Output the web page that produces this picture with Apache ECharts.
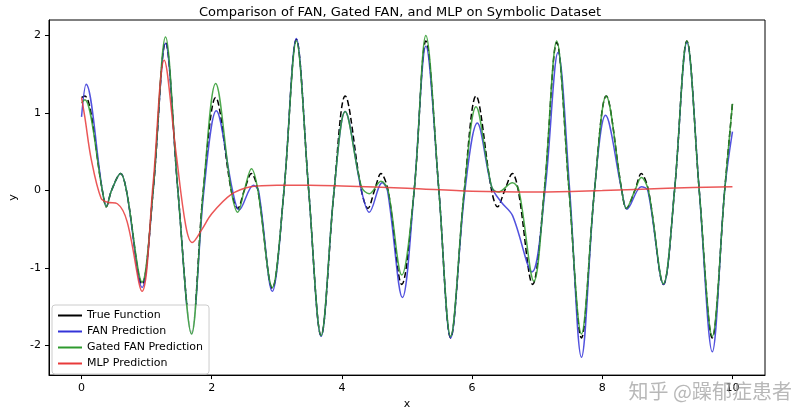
<!DOCTYPE html>
<html><head><meta charset="utf-8">
<script src="https://cdn.jsdelivr.net/npm/echarts@6/dist/echarts.min.js"></script>
<style>html,body{margin:0;padding:0;background:#fff}#c{width:800px;height:415px}</style>
</head><body><div id="c"></div>
<script>
const xTicks = [0, 2, 4, 6, 8, 10];
const yTicks = [-2, -1, 0, 1, 2];
const trueFn = [[0,1.2],[0.05,1.22],[0.32,0],[0.38,-0.21],[0.46,0],[0.6,0.22],[0.69,0],[0.93,-1.21],[1.1,0],[1.29,1.91],[1.48,0],[1.69,-1.83],[1.87,0],[2.06,1.2],[2.3,0],[2.4,-0.23],[2.5,0],[2.61,0.22],[2.71,0],[2.93,-1.26],[3.11,0],[3.3,1.95],[3.49,0],[3.68,-1.87],[3.88,0],[4.05,1.22],[4.3,0],[4.4,-0.23],[4.5,0],[4.6,0.22],[4.71,0],[4.92,-1.21],[5.11,0],[5.29,1.93],[5.49,0],[5.67,-1.9],[5.88,0],[6.06,1.22],[6.3,0],[6.39,-0.21],[6.5,0],[6.62,0.22],[6.71,0],[6.93,-1.21],[7.11,0],[7.3,1.91],[7.49,0],[7.68,-1.9],[7.88,0],[8.06,1.22],[8.3,0],[8.37,-0.23],[8.5,0],[8.6,0.22],[8.71,0],[8.94,-1.21],[9.11,0],[9.3,1.93],[9.49,0],[9.69,-1.9],[9.88,0],[10,1.12]];
const fanPred = [[0,0.95],[0.07,1.37],[0.32,0],[0.38,-0.2],[0.46,0],[0.6,0.22],[0.69,0],[0.93,-1.25],[1.1,0],[1.29,1.9],[1.48,0],[1.69,-1.85],[1.88,0],[2.07,1.03],[2.32,0],[2.42,-0.25],[2.64,0.07],[2.72,0],[2.93,-1.3],[3.11,0],[3.3,1.96],[3.49,0],[3.68,-1.88],[3.88,0],[4.05,1.02],[4.3,0],[4.42,-0.28],[4.62,0.1],[4.7,0],[4.93,-1.38],[5.11,0],[5.29,1.86],[5.49,0],[5.67,-1.9],[5.89,0],[6.08,0.87],[6.3,0.05],[6.45,-0.15],[6.62,-0.32],[6.92,-1.05],[7.12,0],[7.32,1.78],[7.5,0],[7.68,-2.15],[7.88,0],[8.05,0.97],[8.3,0],[8.38,-0.24],[8.6,0.05],[8.7,0],[8.94,-1.21],[9.11,0],[9.3,1.91],[9.49,0],[9.69,-2.08],[9.88,0],[10,0.76]];
const gatedPred = [[0,1.13],[0.05,1.17],[0.32,0],[0.38,-0.21],[0.46,0],[0.6,0.22],[0.69,0],[0.93,-1.18],[1.1,0],[1.29,1.98],[1.48,0],[1.69,-1.85],[1.87,0],[2.06,1.38],[2.3,0],[2.4,-0.28],[2.5,0],[2.61,0.28],[2.71,0],[2.93,-1.25],[3.11,0],[3.3,1.93],[3.49,0],[3.68,-1.87],[3.88,0],[4.05,1.02],[4.3,0.05],[4.42,-0.04],[4.6,0.12],[4.71,0],[4.92,-1.09],[5.11,0],[5.29,2.0],[5.49,0],[5.67,-1.88],[5.88,0],[6.06,1.08],[6.3,0.05],[6.4,-0.02],[6.62,0.1],[6.72,0],[6.95,-1.17],[7.11,0],[7.3,1.93],[7.49,0],[7.68,-1.85],[7.88,0],[8.06,1.22],[8.3,0],[8.37,-0.23],[8.5,0],[8.6,0.17],[8.71,0],[8.94,-1.2],[9.11,0],[9.3,1.93],[9.49,0],[9.69,-1.88],[9.88,0],[10,1.12]];
const mlpPred = [[0,1.2],[0.05,0.95],[0.15,0.4],[0.3,-0.1],[0.4,-0.15],[0.55,-0.17],[0.7,-0.4],[0.93,-1.3],[1.1,0.1],[1.27,1.68],[1.45,0.5],[1.6,-0.45],[1.7,-0.67],[1.85,-0.5],[2.0,-0.3],[2.3,-0.05],[2.6,0.05],[3.0,0.07],[3.5,0.07],[4,0.06],[5,0.03],[6,-0.01],[7,-0.02],[8,0.0],[9,0.03],[10,0.05]];

const chart = echarts.init(document.getElementById('c'));
const font = 'DejaVu Sans';
function line(name, data, color, dashed, z) {
  return {name, type:'line', data, smooth:0.35, symbol:'none', z,
    lineStyle:{color, width:1.5, type: dashed ? [6,3] : 'solid', opacity: dashed?1:0.85},
    itemStyle:{color}};
}
chart.setOption({
  animation:false,
  textStyle:{fontFamily:font},
  title:{text:'Comparison of FAN, Gated FAN, and MLP on Symbolic Dataset', left:'center', top:1,
    textStyle:{fontSize:13, fontWeight:'normal', color:'#000', fontFamily:font}},
  grid:{left:48, right:35, top:20, bottom:37, show:true, borderColor:'#000', borderWidth:1},
  legend:{orient:'vertical', left:52, bottom:41, itemWidth:24, itemHeight:2, itemGap:5, icon:'rect',
    backgroundColor:'rgba(255,255,255,0.8)', borderColor:'#ccc', borderWidth:1, borderRadius:3, padding:[5,6],
    textStyle:{fontSize:11, color:'#000', fontFamily:font},
    data:['True Function','FAN Prediction','Gated FAN Prediction','MLP Prediction']},
  xAxis:{type:'value', min:-0.5, max:10.5, name:'x', nameLocation:'middle', nameGap:22,
    nameTextStyle:{fontSize:11,color:'#000'},
    axisLine:{show:true, onZero:false, lineStyle:{color:'#000'}}, splitLine:{show:false},
    axisTick:{show:true, customValues:xTicks, length:4, lineStyle:{color:'#000'}},
    axisLabel:{customValues:xTicks, fontSize:11, color:'#000'}},
  yAxis:{type:'value', min:-2.38, max:2.2, name:'y', nameLocation:'middle', nameGap:30,
    nameTextStyle:{fontSize:11,color:'#000'},
    axisLine:{show:true, onZero:false, lineStyle:{color:'#000'}}, splitLine:{show:false},
    axisTick:{show:true, customValues:yTicks, length:4, lineStyle:{color:'#000'}},
    axisLabel:{customValues:yTicks, fontSize:11, color:'#000'}},
  graphic:[{type:'text', right:8, bottom:14, z:100,
    style:{text:'知乎 @躁郁症患者', fontSize:20, fill:'rgba(160,160,160,0.75)', fontFamily:'Noto Sans CJK SC'}}],
  series:[
    line('True Function', trueFn, '#000000', true, 2),
    line('FAN Prediction', fanPred, '#3434d8', false, 3),
    line('Gated FAN Prediction', gatedPred, '#2e9a2e', false, 4),
    line('MLP Prediction', mlpPred, '#e83a3a', false, 5)
  ]
});
</script></body></html>
